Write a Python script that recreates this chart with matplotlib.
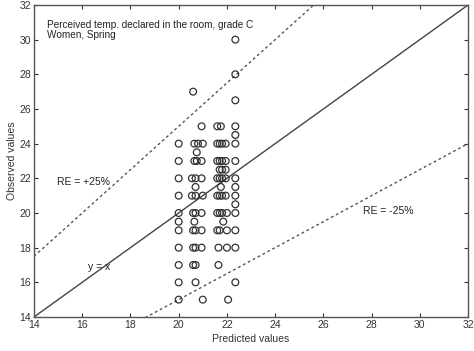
import numpy as np
import matplotlib
matplotlib.use('Agg')
import matplotlib.pyplot as plt

plt.rcParams['font.family'] = ['Liberation Sans', 'DejaVu Sans']

rows = {
    15.0: [20.0, 21.0, 22.05],
    16.0: [20.0, 20.7, 22.35],
    17.0: [20.0, 20.6, 20.7, 21.65],
    18.0: [20.0, 20.6, 20.7, 20.95, 21.65, 22.0, 22.35],
    19.0: [20.0, 20.6, 20.7, 20.95, 21.6, 21.7, 22.0, 22.35],
    19.5: [20.0, 20.65, 21.85],
    20.0: [20.0, 20.6, 20.7, 20.95, 21.6, 21.7, 21.8, 22.0, 22.35],
    20.5: [22.35],
    21.0: [20.0, 20.55, 20.7, 21.0, 21.6, 21.7, 21.8, 21.95, 22.35],
    21.5: [20.7, 21.75, 22.35],
    22.0: [20.0, 20.55, 20.7, 20.95, 21.6, 21.7, 21.8, 21.95, 22.35],
    22.5: [21.7, 21.8, 21.95],
    23.0: [20.0, 20.65, 20.75, 20.95, 21.6, 21.7, 21.8, 21.95, 22.35],
    23.5: [20.75],
    24.0: [20.0, 20.65, 20.8, 21.0, 21.6, 21.7, 21.8, 21.95, 22.35],
    24.5: [22.35],
    25.0: [20.95, 21.6, 21.75, 22.35],
    26.5: [22.35],
    27.0: [20.6],
    28.0: [22.35],
    30.0: [22.35],
}

predicted = []
observed = []
for obs, preds in rows.items():
    for p in preds:
        predicted.append(p)
        observed.append(obs)

lims = [14, 32]
re_plus = 1.25
re_minus = 0.75
ticks = [14, 16, 18, 20, 22, 24, 26, 28, 30, 32]

fig = plt.figure(figsize=(4.74, 3.51), dpi=100)
ax = fig.add_axes([0.0717, 0.0969, 0.9157, 0.8889])

xx = np.array(lims, dtype=float)
ax.plot(xx, xx, '-', color='#444444', lw=1.0)
ax.plot(xx, re_plus * xx, color='#555555', lw=1.0, linestyle=(0, (2, 2)))
ax.plot(xx, re_minus * xx, color='#555555', lw=1.0, linestyle=(0, (2, 2)))

ax.scatter(predicted, observed, s=24, facecolors='none', edgecolors='#333333',
           linewidths=0.9, zorder=3)

ax.set_xlim(lims)
ax.set_ylim(lims)
ax.set_xticks(ticks)
ax.set_yticks(ticks)
ax.tick_params(direction='in', top=True, right=True, length=3, width=0.8,
               labelsize=7.5, colors='#333333', pad=2)
for s in ax.spines.values():
    s.set_color('#555555')
    s.set_linewidth(1.0)

ax.set_xlabel('Predicted values', fontsize=7.5, color='#333333', labelpad=3)
ax.set_ylabel('Observed values', fontsize=7.5, color='#333333', labelpad=2)

ax.text(14.52, 30.86, 'Perceived temp. declared in the room, grade C',
        fontsize=7.2, color='#222222', va='center')
ax.text(14.52, 30.24, 'Women, Spring', fontsize=7.2, color='#222222', va='center')
ax.text(14.94, 21.8, 'RE = +25%', fontsize=7.5, color='#222222', va='center')
ax.text(27.64, 20.1, 'RE = -25%', fontsize=7.5, color='#222222', va='center')
ax.text(16.24, 16.87, 'y = x', fontsize=7.5, color='#222222', va='center')

fig.savefig('out.png', dpi=100)
